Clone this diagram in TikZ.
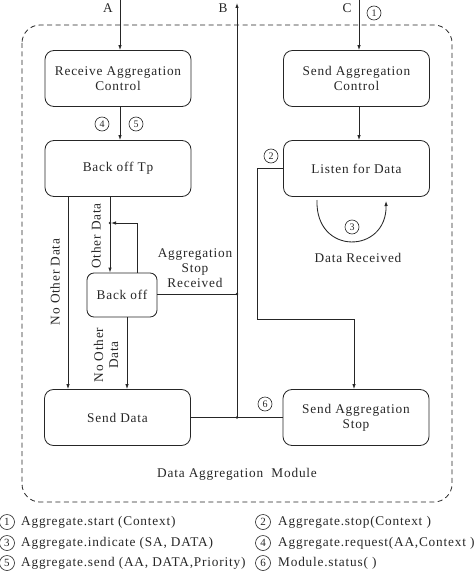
\documentclass[tikz,border=0pt]{standalone}
\usepackage{fontspec}
\setmainfont{Liberation Serif}[LetterSpace=6]
\usetikzlibrary{arrows.meta}
\definecolor{ink}{gray}{0.15}
\tikzset{
  box/.style={draw=ink, line width=0.85pt, rounded corners=9pt, minimum width=146pt, minimum height=56pt, align=center, inner sep=2pt, text=ink},
  ln/.style={draw=ink, line width=0.85pt},
  arr/.style={ln, -{Latex[length=5pt,width=3.5pt]}},
  num/.style={draw=ink, line width=0.6pt, circle, inner sep=0pt, minimum size=14pt, font=\fontsize{10}{10}\selectfont, text=ink},
  lnum/.style={num, minimum size=15pt, font=\fontsize{11}{11}\selectfont},
  lbl/.style={text=ink, align=center, inner sep=0pt},
  dot/.style={circle, fill=ink, inner sep=0pt, minimum size=2.6pt}
}
\begin{document}
\begin{tikzpicture}[x=1pt,y=-1pt, font=\fontsize{13.3}{15}\selectfont]
\useasboundingbox (0,0) rectangle (474,578);
% module frame
\draw[ink, line width=0.8pt, dash pattern=on 5pt off 3.5pt, rounded corners=18pt] (22,25) rectangle (452,502);
% boxes
\node[box] (recv) at (118,78.5) {Receive Aggregation\\Control};
\node[box] (bot) at (118,168.5) {Back off Tp};
\node[box] (sac) at (356.5,78.5) {Send Aggregation\\Control};
\node[box] (lis) at (356.5,168.5) {Listen for Data};
\node[box, minimum width=70pt, minimum height=44pt, rounded corners=7pt] (bo) at (122,295) {Back off};
\node[box] (sd) at (117.5,417.5) {Send Data};
\node[box] (sas) at (356,417.5) {Send Aggregation\\Stop};
% top inputs
\coordinate (A) at (120,0);
\coordinate (C) at (359,0);
\coordinate (Btop) at (237,3);
\node[lbl] (Alab) at (108,8) {A};
\node[lbl] (Blab) at (223,8) {B};
\node[lbl] (Clab) at (347,8) {C};
\draw[arr] (A) -- (A |- recv.north);
\draw[arr] (C) -- (C |- sac.north);
\node[num] (n1) at (374,13) {1};
% receive -> back off tp
\draw[arr] (recv.south -| 120,0) -- (bot.north -| 120,0);
\node[num] (n4) at (102,124) {4};
\node[num] (n5) at (136,124) {5};
% send agg control -> listen
\draw[arr] (sac.south -| 359,0) -- (lis.north -| 359,0);
% No other data (long)
\coordinate (x68) at (68,0);
\draw[arr] (bot.south -| x68) -- (sd.north -| x68);
\node[lbl, rotate=90] (nod1) at (55,282) {No Other Data};
% other data
\coordinate (x110) at (110,0);
\draw[arr] (bot.south -| x110) -- (bo.north -| x110);
\node[lbl, rotate=90] (od) at (96,236) {Other Data};
% back off loop
\coordinate (x137) at (137,0);
\coordinate (loopT) at (137,223);
\coordinate (loopJ) at (110,223);
\draw[ln] (bo.north -| x137) -- (loopT);
\draw[arr] (loopT) -- ([xshift=1pt]loopJ);
\node[dot] (dj) at (loopJ) {};
% back off -> send data
\coordinate (x127) at (127,0);
\draw[arr] (bo.south -| x127) -- (sd.north -| x127);
\node[lbl, rotate=90] (nod2) at (106,355) {No Other\\Data};
% send data -- send agg stop, junction & B
\coordinate (jB) at (237,417.5);
\draw[ln] (sd.east) -- (sas.west);
\node[dot] (dB) at (jB) {};
\draw[arr] (jB) -- (Btop);
\node[num] (n6) at (265,404) {6};
% back off -> B line
\coordinate (jS) at (237,294);
\draw[ln] (bo.east |- jS) -- (jS);
\node[dot] (dS) at (jS) {};
\node[lbl] (asr) at (195,268) {Aggregation\\Stop\\Received};
% listen -> send agg stop
\coordinate (l1) at (257,168);
\coordinate (l2) at (257,319);
\coordinate (l3) at (354,319);
\draw[ln] (lis.west |- l1) -- (l1) -- (l2) -- (l3);
\draw[arr] (l3) -- (sas.north -| l3);
\node[num] (n2) at (271,156) {2};
% data received loop
\coordinate (c1) at (317,200);
\coordinate (c2) at (386,201);
\draw[arr] (c1) .. controls (315,256) and (387,254) .. (c2);
\node[num] (n3) at (352,227) {3};
\node[lbl] (dr) at (358,258) {Data Received};
% module title
\node[lbl] (title) at (237,474) {Data Aggregation\ \ Module};
% legend
\node[lnum] (g1) at (7,522) {1};
\node[lbl, anchor=west] (t1) at (21,522) {Aggregate.start (Context)};
\node[lnum] (g2) at (263,522) {2};
\node[lbl, anchor=west] (t2) at (278,522) {Aggregate.stop(Context )};
\node[lnum] (g3) at (7,543) {3};
\node[lbl, anchor=west] (t3) at (21,543) {Aggregate.indicate (SA, DATA)};
\node[lnum] (g4) at (263,543) {4};
\node[lbl, anchor=west] (t4) at (278,543) {Aggregate.request(AA,Context )};
\node[lnum] (g5) at (7,563) {5};
\node[lbl, anchor=west] (t5) at (21,563) {Aggregate.send (AA, DATA,Priority)};
\node[lnum] (g6) at (263,563) {6};
\node[lbl, anchor=west] (t6) at (278,563) {Module.status( )};
\end{tikzpicture}
\end{document}
